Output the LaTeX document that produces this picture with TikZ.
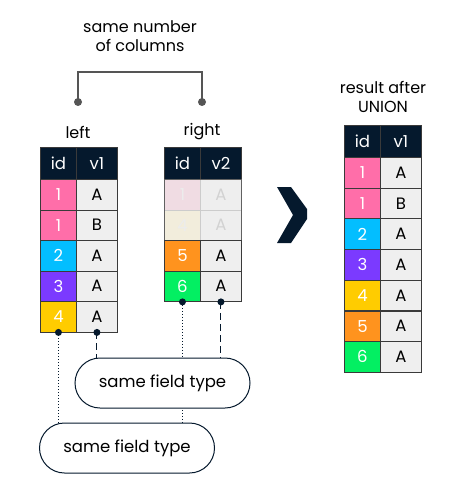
\documentclass[tikz,border=0pt]{standalone}
\usepackage{fontspec}
\setmainfont{Poppins}
\usetikzlibrary{calc}
\definecolor{navy}{HTML}{05192D}
\definecolor{cpink}{HTML}{FF6EA9}
\definecolor{ccyan}{HTML}{03BEFF}
\definecolor{cpurple}{HTML}{7B3AFF}
\definecolor{cyellow}{HTML}{FFCC00}
\definecolor{corange}{HTML}{FF931E}
\definecolor{cgreen}{HTML}{03EF62}
\definecolor{cgray}{HTML}{EFEFEF}
\definecolor{fpink}{HTML}{F0DCE3}
\definecolor{fyellow}{HTML}{F2EDDC}
\definecolor{fgray}{HTML}{EEEEEE}
\definecolor{brk}{HTML}{555555}
\definecolor{gridc}{HTML}{3A3A3A}
\tikzset{
  x=1pt, y=-1pt,
  cellbox/.style={draw=gridc, line width=0.9pt, minimum height=30.5pt, inner sep=0pt, font=\fontsize{16.5}{18}\selectfont, anchor=north west},
  idcell/.style={cellbox, minimum width=36pt, text=white},
  vcell/.style={cellbox, minimum width=41pt, fill=cgray, text=black},
  hdid/.style={cellbox, minimum width=36pt, minimum height=32pt, fill=navy, text=white},
  hdv/.style={cellbox, minimum width=41pt, minimum height=32pt, fill=navy, text=white},
  fid/.style={cellbox, minimum width=36pt, draw=gray!40, text=white!85!gray},
  fv/.style={cellbox, minimum width=41pt, draw=gray!40, fill=fgray, text=gray!35},
  lbl/.style={font=\fontsize{16}{19.5}\selectfont, align=center, text=black},
  dotn/.style={circle, fill=navy, minimum size=7pt, inner sep=0pt},
  bdot/.style={circle, fill=brk, minimum size=8pt, inner sep=0pt},
  pill/.style={draw=navy, line width=1pt, fill=white, rounded corners=25pt, minimum width=175pt, minimum height=50pt, font=\fontsize{16.5}{18}\selectfont},
  dotl/.style={navy, dotted, line width=1pt},
  dashl/.style={navy, dash pattern=on 7pt off 4pt, line width=1pt}
}
\begin{document}
\begin{tikzpicture}
\useasboundingbox (0,0) rectangle (463,486);
% title and bracket
\node[lbl] (title) at (140,36) {same number\\of columns};
\node[bdot] (bl) at (78,102) {};
\node[bdot] (br) at (202,102) {};
\draw[brk, line width=1.5pt] (bl.center) -- (78,72) -- (202,72) -- (br.center);
\node[lbl] (lleft) at (78,132) {left};
\node[lbl] (lright) at (202,132) {right};
\node[lbl] (lres) at (383,97) {result after\\UNION};
% left table
\node[hdid] (Lh1) at (40,147) {id};
\node[hdv] (Lh2) at (76,147) {v1};
\node[idcell, fill=cpink] (L1a) at (40,179) {1};
\node[vcell] (L1b) at (76,179) {A};
\node[idcell, fill=cpink] (L2a) at (40,209.5) {1};
\node[vcell] (L2b) at (76,209.5) {B};
\node[idcell, fill=ccyan] (L3a) at (40,240) {2};
\node[vcell] (L3b) at (76,240) {A};
\node[idcell, fill=cpurple] (L4a) at (40,270.5) {3};
\node[vcell] (L4b) at (76,270.5) {A};
\node[idcell, fill=cyellow] (L5a) at (40,301) {4};
\node[vcell] (L5b) at (76,301) {A};
% right table
\node[hdid] (Rh1) at (164,147) {id};
\node[hdv] (Rh2) at (200,147) {v2};
\node[fid, fill=fpink] (R1a) at (164,179) {1};
\node[fv] (R1b) at (200,179) {A};
\node[fid, fill=fyellow] (R2a) at (164,209.5) {4};
\node[fv] (R2b) at (200,209.5) {A};
\draw[gridc!80!white, line width=0.9pt] (R1a.north west) rectangle (R2b.south east);
\node[idcell, fill=corange] (R3a) at (164,240) {5};
\node[vcell] (R3b) at (200,240) {A};
\node[idcell, fill=cgreen] (R4a) at (164,270.5) {6};
\node[vcell] (R4b) at (200,270.5) {A};
% result table
\node[hdid] (Uh1) at (344,125) {id};
\node[hdv] (Uh2) at (380,125) {v1};
\foreach \i/\c/\n/\v in {0/cpink/1/A,1/cpink/1/B,2/ccyan/2/A,3/cpurple/3/A,4/cyellow/4/A,5/corange/5/A,6/cgreen/6/A}{
  \node[idcell, fill=\c] (U\i a) at (344,157+30.7*\i) {\n};
  \node[vcell] (U\i b) at (380,157+30.7*\i) {\v};
}
% chevron
\fill[navy] (277,187) -- (291,187) -- (307,209) -- (307,219) -- (291,243) -- (277,243) -- (293,215) -- cycle;
% connector dots
\node[dotn] (dL1) at (L5a.south) {};
\node[dotn] (dL2) at (L5b.south) {};
\node[dotn] (dR1) at (R4a.south) {};
\node[dotn] (dR2) at (R4b.south) {};
% pills positions
\coordinate (p1top) at (162,358);
\coordinate (p2top) at (127,423);
\draw[dotl] (dL1.center) -- (dL1.center |- p2top);
\draw[dotl] (dR1.center) -- (dR1.center |- p2top);
\draw[dashl] (dL2.center) -- (dL2.center |- p1top);
\draw[dashl] (dR2.center) -- (dR2.center |- p1top);
\node[pill] (pill1) at (162.5,383) {same field type};
\node[pill] (pill2) at (127,448) {same field type};
\end{tikzpicture}
\end{document}
